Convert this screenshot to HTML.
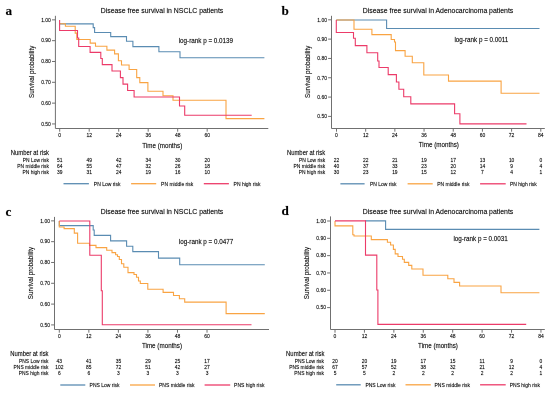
<!DOCTYPE html>
<html><head><meta charset="utf-8"><style>
html,body{margin:0;padding:0;background:#fff;width:550px;height:393px;overflow:hidden}
svg{display:block;will-change:transform}
</style></head><body>
<svg width="550" height="393" viewBox="0 0 550 393">
<g>
<rect width="550" height="393" fill="#fff"/>
<line x1="55.4" y1="15.8" x2="55.4" y2="128.5" stroke="#707070" stroke-width="1"/>
<line x1="55.4" y1="128.5" x2="268.3" y2="128.5" stroke="#707070" stroke-width="1"/>
<line x1="52.0" y1="19.85" x2="55.4" y2="19.85" stroke="#707070" stroke-width="1.0"/>
<text x="50.9" y="21.650000000000002" font-size="5.0" text-anchor="end" fill="#000000" stroke="#b4b4b4" stroke-width="0.28" paint-order="stroke" font-family='"Liberation Sans", sans-serif' font-weight="normal" >1.00</text>
<line x1="52.0" y1="40.67" x2="55.4" y2="40.67" stroke="#707070" stroke-width="1.0"/>
<text x="50.9" y="42.47" font-size="5.0" text-anchor="end" fill="#000000" stroke="#b4b4b4" stroke-width="0.28" paint-order="stroke" font-family='"Liberation Sans", sans-serif' font-weight="normal" >0.90</text>
<line x1="52.0" y1="61.49" x2="55.4" y2="61.49" stroke="#707070" stroke-width="1.0"/>
<text x="50.9" y="63.29" font-size="5.0" text-anchor="end" fill="#000000" stroke="#b4b4b4" stroke-width="0.28" paint-order="stroke" font-family='"Liberation Sans", sans-serif' font-weight="normal" >0.80</text>
<line x1="52.0" y1="82.31" x2="55.4" y2="82.31" stroke="#707070" stroke-width="1.0"/>
<text x="50.9" y="84.11" font-size="5.0" text-anchor="end" fill="#000000" stroke="#b4b4b4" stroke-width="0.28" paint-order="stroke" font-family='"Liberation Sans", sans-serif' font-weight="normal" >0.70</text>
<line x1="52.0" y1="103.13" x2="55.4" y2="103.13" stroke="#707070" stroke-width="1.0"/>
<text x="50.9" y="104.92999999999999" font-size="5.0" text-anchor="end" fill="#000000" stroke="#b4b4b4" stroke-width="0.28" paint-order="stroke" font-family='"Liberation Sans", sans-serif' font-weight="normal" >0.60</text>
<line x1="52.0" y1="123.95" x2="55.4" y2="123.95" stroke="#707070" stroke-width="1.0"/>
<text x="50.9" y="125.75" font-size="5.0" text-anchor="end" fill="#000000" stroke="#b4b4b4" stroke-width="0.28" paint-order="stroke" font-family='"Liberation Sans", sans-serif' font-weight="normal" >0.50</text>
<line x1="59.7" y1="128.5" x2="59.7" y2="131.7" stroke="#707070" stroke-width="1.0"/>
<text x="59.7" y="137.4" font-size="5.0" text-anchor="middle" fill="#000000" stroke="#b4b4b4" stroke-width="0.28" paint-order="stroke" font-family='"Liberation Sans", sans-serif' font-weight="normal" >0</text>
<line x1="89.196" y1="128.5" x2="89.196" y2="131.7" stroke="#707070" stroke-width="1.0"/>
<text x="89.196" y="137.4" font-size="5.0" text-anchor="middle" fill="#000000" stroke="#b4b4b4" stroke-width="0.28" paint-order="stroke" font-family='"Liberation Sans", sans-serif' font-weight="normal" >12</text>
<line x1="118.69200000000001" y1="128.5" x2="118.69200000000001" y2="131.7" stroke="#707070" stroke-width="1.0"/>
<text x="118.69200000000001" y="137.4" font-size="5.0" text-anchor="middle" fill="#000000" stroke="#b4b4b4" stroke-width="0.28" paint-order="stroke" font-family='"Liberation Sans", sans-serif' font-weight="normal" >24</text>
<line x1="148.188" y1="128.5" x2="148.188" y2="131.7" stroke="#707070" stroke-width="1.0"/>
<text x="148.188" y="137.4" font-size="5.0" text-anchor="middle" fill="#000000" stroke="#b4b4b4" stroke-width="0.28" paint-order="stroke" font-family='"Liberation Sans", sans-serif' font-weight="normal" >36</text>
<line x1="177.68400000000003" y1="128.5" x2="177.68400000000003" y2="131.7" stroke="#707070" stroke-width="1.0"/>
<text x="177.68400000000003" y="137.4" font-size="5.0" text-anchor="middle" fill="#000000" stroke="#b4b4b4" stroke-width="0.28" paint-order="stroke" font-family='"Liberation Sans", sans-serif' font-weight="normal" >48</text>
<line x1="207.18" y1="128.5" x2="207.18" y2="131.7" stroke="#707070" stroke-width="1.0"/>
<text x="207.18" y="137.4" font-size="5.0" text-anchor="middle" fill="#000000" stroke="#b4b4b4" stroke-width="0.28" paint-order="stroke" font-family='"Liberation Sans", sans-serif' font-weight="normal" >60</text>
<text x="5.6" y="14.6" font-size="13.2" text-anchor="start" fill="#000" stroke="#b4b4b4" stroke-width="0.35" paint-order="stroke" font-family='"Liberation Serif", serif' font-weight="bold" >a</text>
<text x="162" y="13.2" font-size="6.9" text-anchor="middle" fill="#000000" stroke="#b4b4b4" stroke-width="0.3" paint-order="stroke" font-family='"Liberation Sans", sans-serif' font-weight="normal" >Disease free survival in NSCLC patients</text>
<text x="0" y="0" font-size="6.6" text-anchor="middle" fill="#000000" stroke="#b4b4b4" stroke-width="0.3" paint-order="stroke" font-family='"Liberation Sans", sans-serif' font-weight="normal" transform="translate(33.7,71.8) rotate(-90)" textLength="52.3" lengthAdjust="spacingAndGlyphs">Survival probability</text>
<text x="162.3" y="147.6" font-size="6.8" text-anchor="middle" fill="#000000" stroke="#b4b4b4" stroke-width="0.3" paint-order="stroke" font-family='"Liberation Sans", sans-serif' font-weight="normal"  textLength="39.9" lengthAdjust="spacingAndGlyphs">Time (months)</text>
<text x="178.7" y="43.0" font-size="6.3" text-anchor="start" fill="#000000" stroke="#b4b4b4" stroke-width="0.3" paint-order="stroke" font-family='"Liberation Sans", sans-serif' font-weight="normal" >log-rank p = 0.0139</text>
<text x="10.7" y="155.2" font-size="6.3" text-anchor="start" fill="#000000" stroke="#b4b4b4" stroke-width="0.3" paint-order="stroke" font-family='"Liberation Sans", sans-serif' font-weight="normal"  textLength="38.4" lengthAdjust="spacingAndGlyphs">Number at risk</text>
<text x="48.9" y="162.0" font-size="4.9" text-anchor="end" fill="#000000" stroke="#b4b4b4" stroke-width="0.28" paint-order="stroke" font-family='"Liberation Sans", sans-serif' font-weight="normal" >PN Low risk</text>
<text x="59.7" y="162.0" font-size="4.9" text-anchor="middle" fill="#000000" stroke="#b4b4b4" stroke-width="0.28" paint-order="stroke" font-family='"Liberation Sans", sans-serif' font-weight="normal" >51</text>
<text x="89.196" y="162.0" font-size="4.9" text-anchor="middle" fill="#000000" stroke="#b4b4b4" stroke-width="0.28" paint-order="stroke" font-family='"Liberation Sans", sans-serif' font-weight="normal" >49</text>
<text x="118.69200000000001" y="162.0" font-size="4.9" text-anchor="middle" fill="#000000" stroke="#b4b4b4" stroke-width="0.28" paint-order="stroke" font-family='"Liberation Sans", sans-serif' font-weight="normal" >42</text>
<text x="148.188" y="162.0" font-size="4.9" text-anchor="middle" fill="#000000" stroke="#b4b4b4" stroke-width="0.28" paint-order="stroke" font-family='"Liberation Sans", sans-serif' font-weight="normal" >34</text>
<text x="177.68400000000003" y="162.0" font-size="4.9" text-anchor="middle" fill="#000000" stroke="#b4b4b4" stroke-width="0.28" paint-order="stroke" font-family='"Liberation Sans", sans-serif' font-weight="normal" >30</text>
<text x="207.18" y="162.0" font-size="4.9" text-anchor="middle" fill="#000000" stroke="#b4b4b4" stroke-width="0.28" paint-order="stroke" font-family='"Liberation Sans", sans-serif' font-weight="normal" >20</text>
<text x="48.9" y="167.9" font-size="4.9" text-anchor="end" fill="#000000" stroke="#b4b4b4" stroke-width="0.28" paint-order="stroke" font-family='"Liberation Sans", sans-serif' font-weight="normal" >PN middle risk</text>
<text x="59.7" y="167.9" font-size="4.9" text-anchor="middle" fill="#000000" stroke="#b4b4b4" stroke-width="0.28" paint-order="stroke" font-family='"Liberation Sans", sans-serif' font-weight="normal" >64</text>
<text x="89.196" y="167.9" font-size="4.9" text-anchor="middle" fill="#000000" stroke="#b4b4b4" stroke-width="0.28" paint-order="stroke" font-family='"Liberation Sans", sans-serif' font-weight="normal" >55</text>
<text x="118.69200000000001" y="167.9" font-size="4.9" text-anchor="middle" fill="#000000" stroke="#b4b4b4" stroke-width="0.28" paint-order="stroke" font-family='"Liberation Sans", sans-serif' font-weight="normal" >47</text>
<text x="148.188" y="167.9" font-size="4.9" text-anchor="middle" fill="#000000" stroke="#b4b4b4" stroke-width="0.28" paint-order="stroke" font-family='"Liberation Sans", sans-serif' font-weight="normal" >32</text>
<text x="177.68400000000003" y="167.9" font-size="4.9" text-anchor="middle" fill="#000000" stroke="#b4b4b4" stroke-width="0.28" paint-order="stroke" font-family='"Liberation Sans", sans-serif' font-weight="normal" >26</text>
<text x="207.18" y="167.9" font-size="4.9" text-anchor="middle" fill="#000000" stroke="#b4b4b4" stroke-width="0.28" paint-order="stroke" font-family='"Liberation Sans", sans-serif' font-weight="normal" >18</text>
<text x="48.9" y="173.7" font-size="4.9" text-anchor="end" fill="#000000" stroke="#b4b4b4" stroke-width="0.28" paint-order="stroke" font-family='"Liberation Sans", sans-serif' font-weight="normal" >PN high risk</text>
<text x="59.7" y="173.7" font-size="4.9" text-anchor="middle" fill="#000000" stroke="#b4b4b4" stroke-width="0.28" paint-order="stroke" font-family='"Liberation Sans", sans-serif' font-weight="normal" >39</text>
<text x="89.196" y="173.7" font-size="4.9" text-anchor="middle" fill="#000000" stroke="#b4b4b4" stroke-width="0.28" paint-order="stroke" font-family='"Liberation Sans", sans-serif' font-weight="normal" >31</text>
<text x="118.69200000000001" y="173.7" font-size="4.9" text-anchor="middle" fill="#000000" stroke="#b4b4b4" stroke-width="0.28" paint-order="stroke" font-family='"Liberation Sans", sans-serif' font-weight="normal" >24</text>
<text x="148.188" y="173.7" font-size="4.9" text-anchor="middle" fill="#000000" stroke="#b4b4b4" stroke-width="0.28" paint-order="stroke" font-family='"Liberation Sans", sans-serif' font-weight="normal" >19</text>
<text x="177.68400000000003" y="173.7" font-size="4.9" text-anchor="middle" fill="#000000" stroke="#b4b4b4" stroke-width="0.28" paint-order="stroke" font-family='"Liberation Sans", sans-serif' font-weight="normal" >16</text>
<text x="207.18" y="173.7" font-size="4.9" text-anchor="middle" fill="#000000" stroke="#b4b4b4" stroke-width="0.28" paint-order="stroke" font-family='"Liberation Sans", sans-serif' font-weight="normal" >10</text>
<line x1="63.5" y1="183.7" x2="88.9" y2="183.7" stroke="#5a8cb2" stroke-width="1.3"/>
<text x="93.8" y="185.5" font-size="5.0" text-anchor="start" fill="#000000" stroke="#b4b4b4" stroke-width="0.28" paint-order="stroke" font-family='"Liberation Sans", sans-serif' font-weight="normal" >PN Low risk</text>
<line x1="131.1" y1="183.7" x2="156.2" y2="183.7" stroke="#f9a443" stroke-width="1.3"/>
<text x="161.1" y="185.5" font-size="5.0" text-anchor="start" fill="#000000" stroke="#b4b4b4" stroke-width="0.28" paint-order="stroke" font-family='"Liberation Sans", sans-serif' font-weight="normal" >PN middle risk</text>
<line x1="203.8" y1="183.7" x2="228.9" y2="183.7" stroke="#ec3b69" stroke-width="1.3"/>
<text x="233.6" y="185.5" font-size="5.0" text-anchor="start" fill="#000000" stroke="#b4b4b4" stroke-width="0.28" paint-order="stroke" font-family='"Liberation Sans", sans-serif' font-weight="normal" >PN high risk</text>
<path d="M59.6 23.9 H93.2 V27.6 H94.6 V32.5 H110.7 V36.6 H126.5 V41.3 H132.9 V46.6 H158.9 V51.8 H180 V57.8 H264.4" fill="none" stroke="#5a8cb2" stroke-width="1.1" stroke-linejoin="miter" stroke-linecap="butt"/>
<path d="M59.6 23.7 H65.4 V26.2 H75.2 V33.1 H76.8 V39.5 H90.2 V43.1 H95.5 V46.3 H106.9 V50.1 H114.6 V53.9 H118.4 V60.8 H121.5 V65 H129.1 V69.5 H136.7 V77.6 H139.8 V82.6 H147.9 V91.3 H163 V95.7 H173 V100.3 H226 V118.6 H264.4" fill="none" stroke="#f9a443" stroke-width="1.1" stroke-linejoin="miter" stroke-linecap="butt"/>
<path d="M59.6 20 V30.5 H77.5 V38 H78.7 V46.5 H90.1 V52.4 H100.8 V58.5 H102.3 V64.6 H112 V71 H120.4 V77.6 H123 V84.1 H127.6 V90.5 H134.1 V97 H179.5 V106 H184.7 V115.2 H251.7" fill="none" stroke="#ec3b69" stroke-width="1.1" stroke-linejoin="miter" stroke-linecap="butt"/>
<line x1="331.5" y1="15.8" x2="331.5" y2="128.5" stroke="#707070" stroke-width="1"/>
<line x1="331.5" y1="128.5" x2="544.8" y2="128.5" stroke="#707070" stroke-width="1"/>
<line x1="328.1" y1="19.8" x2="331.5" y2="19.8" stroke="#707070" stroke-width="1.0"/>
<text x="327.0" y="21.6" font-size="5.0" text-anchor="end" fill="#000000" stroke="#b4b4b4" stroke-width="0.28" paint-order="stroke" font-family='"Liberation Sans", sans-serif' font-weight="normal" >1.00</text>
<line x1="328.1" y1="39.12" x2="331.5" y2="39.12" stroke="#707070" stroke-width="1.0"/>
<text x="327.0" y="40.919999999999995" font-size="5.0" text-anchor="end" fill="#000000" stroke="#b4b4b4" stroke-width="0.28" paint-order="stroke" font-family='"Liberation Sans", sans-serif' font-weight="normal" >0.90</text>
<line x1="328.1" y1="58.44" x2="331.5" y2="58.44" stroke="#707070" stroke-width="1.0"/>
<text x="327.0" y="60.239999999999995" font-size="5.0" text-anchor="end" fill="#000000" stroke="#b4b4b4" stroke-width="0.28" paint-order="stroke" font-family='"Liberation Sans", sans-serif' font-weight="normal" >0.80</text>
<line x1="328.1" y1="77.76" x2="331.5" y2="77.76" stroke="#707070" stroke-width="1.0"/>
<text x="327.0" y="79.56" font-size="5.0" text-anchor="end" fill="#000000" stroke="#b4b4b4" stroke-width="0.28" paint-order="stroke" font-family='"Liberation Sans", sans-serif' font-weight="normal" >0.70</text>
<line x1="328.1" y1="97.08" x2="331.5" y2="97.08" stroke="#707070" stroke-width="1.0"/>
<text x="327.0" y="98.88" font-size="5.0" text-anchor="end" fill="#000000" stroke="#b4b4b4" stroke-width="0.28" paint-order="stroke" font-family='"Liberation Sans", sans-serif' font-weight="normal" >0.60</text>
<line x1="328.1" y1="116.4" x2="331.5" y2="116.4" stroke="#707070" stroke-width="1.0"/>
<text x="327.0" y="118.2" font-size="5.0" text-anchor="end" fill="#000000" stroke="#b4b4b4" stroke-width="0.28" paint-order="stroke" font-family='"Liberation Sans", sans-serif' font-weight="normal" >0.50</text>
<line x1="336.5" y1="128.5" x2="336.5" y2="131.7" stroke="#707070" stroke-width="1.0"/>
<text x="336.5" y="137.4" font-size="5.0" text-anchor="middle" fill="#000000" stroke="#b4b4b4" stroke-width="0.28" paint-order="stroke" font-family='"Liberation Sans", sans-serif' font-weight="normal" >0</text>
<line x1="365.68399999999997" y1="128.5" x2="365.68399999999997" y2="131.7" stroke="#707070" stroke-width="1.0"/>
<text x="365.68399999999997" y="137.4" font-size="5.0" text-anchor="middle" fill="#000000" stroke="#b4b4b4" stroke-width="0.28" paint-order="stroke" font-family='"Liberation Sans", sans-serif' font-weight="normal" >12</text>
<line x1="394.868" y1="128.5" x2="394.868" y2="131.7" stroke="#707070" stroke-width="1.0"/>
<text x="394.868" y="137.4" font-size="5.0" text-anchor="middle" fill="#000000" stroke="#b4b4b4" stroke-width="0.28" paint-order="stroke" font-family='"Liberation Sans", sans-serif' font-weight="normal" >24</text>
<line x1="424.052" y1="128.5" x2="424.052" y2="131.7" stroke="#707070" stroke-width="1.0"/>
<text x="424.052" y="137.4" font-size="5.0" text-anchor="middle" fill="#000000" stroke="#b4b4b4" stroke-width="0.28" paint-order="stroke" font-family='"Liberation Sans", sans-serif' font-weight="normal" >36</text>
<line x1="453.236" y1="128.5" x2="453.236" y2="131.7" stroke="#707070" stroke-width="1.0"/>
<text x="453.236" y="137.4" font-size="5.0" text-anchor="middle" fill="#000000" stroke="#b4b4b4" stroke-width="0.28" paint-order="stroke" font-family='"Liberation Sans", sans-serif' font-weight="normal" >48</text>
<line x1="482.41999999999996" y1="128.5" x2="482.41999999999996" y2="131.7" stroke="#707070" stroke-width="1.0"/>
<text x="482.41999999999996" y="137.4" font-size="5.0" text-anchor="middle" fill="#000000" stroke="#b4b4b4" stroke-width="0.28" paint-order="stroke" font-family='"Liberation Sans", sans-serif' font-weight="normal" >60</text>
<line x1="511.604" y1="128.5" x2="511.604" y2="131.7" stroke="#707070" stroke-width="1.0"/>
<text x="511.604" y="137.4" font-size="5.0" text-anchor="middle" fill="#000000" stroke="#b4b4b4" stroke-width="0.28" paint-order="stroke" font-family='"Liberation Sans", sans-serif' font-weight="normal" >72</text>
<line x1="540.788" y1="128.5" x2="540.788" y2="131.7" stroke="#707070" stroke-width="1.0"/>
<text x="540.788" y="137.4" font-size="5.0" text-anchor="middle" fill="#000000" stroke="#b4b4b4" stroke-width="0.28" paint-order="stroke" font-family='"Liberation Sans", sans-serif' font-weight="normal" >84</text>
<text x="281.6" y="14.6" font-size="13.2" text-anchor="start" fill="#000" stroke="#b4b4b4" stroke-width="0.35" paint-order="stroke" font-family='"Liberation Serif", serif' font-weight="bold" >b</text>
<text x="438" y="13.2" font-size="6.9" text-anchor="middle" fill="#000000" stroke="#b4b4b4" stroke-width="0.3" paint-order="stroke" font-family='"Liberation Sans", sans-serif' font-weight="normal" >Disease free survival in Adenocarcinoma patients</text>
<text x="0" y="0" font-size="6.6" text-anchor="middle" fill="#000000" stroke="#b4b4b4" stroke-width="0.3" paint-order="stroke" font-family='"Liberation Sans", sans-serif' font-weight="normal" transform="translate(309.6,71.8) rotate(-90)" textLength="52.3" lengthAdjust="spacingAndGlyphs">Survival probability</text>
<text x="438.8" y="146.6" font-size="6.8" text-anchor="middle" fill="#000000" stroke="#b4b4b4" stroke-width="0.3" paint-order="stroke" font-family='"Liberation Sans", sans-serif' font-weight="normal"  textLength="40.2" lengthAdjust="spacingAndGlyphs">Time (months)</text>
<text x="454.4" y="42.0" font-size="6.3" text-anchor="start" fill="#000000" stroke="#b4b4b4" stroke-width="0.3" paint-order="stroke" font-family='"Liberation Sans", sans-serif' font-weight="normal" >log-rank p = 0.0011</text>
<text x="286.9" y="155.2" font-size="6.3" text-anchor="start" fill="#000000" stroke="#b4b4b4" stroke-width="0.3" paint-order="stroke" font-family='"Liberation Sans", sans-serif' font-weight="normal"  textLength="38.4" lengthAdjust="spacingAndGlyphs">Number at risk</text>
<text x="325.1" y="162.0" font-size="4.9" text-anchor="end" fill="#000000" stroke="#b4b4b4" stroke-width="0.28" paint-order="stroke" font-family='"Liberation Sans", sans-serif' font-weight="normal" >PN Low risk</text>
<text x="336.5" y="162.0" font-size="4.9" text-anchor="middle" fill="#000000" stroke="#b4b4b4" stroke-width="0.28" paint-order="stroke" font-family='"Liberation Sans", sans-serif' font-weight="normal" >22</text>
<text x="365.68399999999997" y="162.0" font-size="4.9" text-anchor="middle" fill="#000000" stroke="#b4b4b4" stroke-width="0.28" paint-order="stroke" font-family='"Liberation Sans", sans-serif' font-weight="normal" >22</text>
<text x="394.868" y="162.0" font-size="4.9" text-anchor="middle" fill="#000000" stroke="#b4b4b4" stroke-width="0.28" paint-order="stroke" font-family='"Liberation Sans", sans-serif' font-weight="normal" >21</text>
<text x="424.052" y="162.0" font-size="4.9" text-anchor="middle" fill="#000000" stroke="#b4b4b4" stroke-width="0.28" paint-order="stroke" font-family='"Liberation Sans", sans-serif' font-weight="normal" >19</text>
<text x="453.236" y="162.0" font-size="4.9" text-anchor="middle" fill="#000000" stroke="#b4b4b4" stroke-width="0.28" paint-order="stroke" font-family='"Liberation Sans", sans-serif' font-weight="normal" >17</text>
<text x="482.41999999999996" y="162.0" font-size="4.9" text-anchor="middle" fill="#000000" stroke="#b4b4b4" stroke-width="0.28" paint-order="stroke" font-family='"Liberation Sans", sans-serif' font-weight="normal" >13</text>
<text x="511.604" y="162.0" font-size="4.9" text-anchor="middle" fill="#000000" stroke="#b4b4b4" stroke-width="0.28" paint-order="stroke" font-family='"Liberation Sans", sans-serif' font-weight="normal" >10</text>
<text x="540.788" y="162.0" font-size="4.9" text-anchor="middle" fill="#000000" stroke="#b4b4b4" stroke-width="0.28" paint-order="stroke" font-family='"Liberation Sans", sans-serif' font-weight="normal" >0</text>
<text x="325.1" y="167.9" font-size="4.9" text-anchor="end" fill="#000000" stroke="#b4b4b4" stroke-width="0.28" paint-order="stroke" font-family='"Liberation Sans", sans-serif' font-weight="normal" >PN middle risk</text>
<text x="336.5" y="167.9" font-size="4.9" text-anchor="middle" fill="#000000" stroke="#b4b4b4" stroke-width="0.28" paint-order="stroke" font-family='"Liberation Sans", sans-serif' font-weight="normal" >40</text>
<text x="365.68399999999997" y="167.9" font-size="4.9" text-anchor="middle" fill="#000000" stroke="#b4b4b4" stroke-width="0.28" paint-order="stroke" font-family='"Liberation Sans", sans-serif' font-weight="normal" >37</text>
<text x="394.868" y="167.9" font-size="4.9" text-anchor="middle" fill="#000000" stroke="#b4b4b4" stroke-width="0.28" paint-order="stroke" font-family='"Liberation Sans", sans-serif' font-weight="normal" >33</text>
<text x="424.052" y="167.9" font-size="4.9" text-anchor="middle" fill="#000000" stroke="#b4b4b4" stroke-width="0.28" paint-order="stroke" font-family='"Liberation Sans", sans-serif' font-weight="normal" >23</text>
<text x="453.236" y="167.9" font-size="4.9" text-anchor="middle" fill="#000000" stroke="#b4b4b4" stroke-width="0.28" paint-order="stroke" font-family='"Liberation Sans", sans-serif' font-weight="normal" >20</text>
<text x="482.41999999999996" y="167.9" font-size="4.9" text-anchor="middle" fill="#000000" stroke="#b4b4b4" stroke-width="0.28" paint-order="stroke" font-family='"Liberation Sans", sans-serif' font-weight="normal" >14</text>
<text x="511.604" y="167.9" font-size="4.9" text-anchor="middle" fill="#000000" stroke="#b4b4b4" stroke-width="0.28" paint-order="stroke" font-family='"Liberation Sans", sans-serif' font-weight="normal" >9</text>
<text x="540.788" y="167.9" font-size="4.9" text-anchor="middle" fill="#000000" stroke="#b4b4b4" stroke-width="0.28" paint-order="stroke" font-family='"Liberation Sans", sans-serif' font-weight="normal" >4</text>
<text x="325.1" y="173.7" font-size="4.9" text-anchor="end" fill="#000000" stroke="#b4b4b4" stroke-width="0.28" paint-order="stroke" font-family='"Liberation Sans", sans-serif' font-weight="normal" >PN high risk</text>
<text x="336.5" y="173.7" font-size="4.9" text-anchor="middle" fill="#000000" stroke="#b4b4b4" stroke-width="0.28" paint-order="stroke" font-family='"Liberation Sans", sans-serif' font-weight="normal" >30</text>
<text x="365.68399999999997" y="173.7" font-size="4.9" text-anchor="middle" fill="#000000" stroke="#b4b4b4" stroke-width="0.28" paint-order="stroke" font-family='"Liberation Sans", sans-serif' font-weight="normal" >23</text>
<text x="394.868" y="173.7" font-size="4.9" text-anchor="middle" fill="#000000" stroke="#b4b4b4" stroke-width="0.28" paint-order="stroke" font-family='"Liberation Sans", sans-serif' font-weight="normal" >19</text>
<text x="424.052" y="173.7" font-size="4.9" text-anchor="middle" fill="#000000" stroke="#b4b4b4" stroke-width="0.28" paint-order="stroke" font-family='"Liberation Sans", sans-serif' font-weight="normal" >15</text>
<text x="453.236" y="173.7" font-size="4.9" text-anchor="middle" fill="#000000" stroke="#b4b4b4" stroke-width="0.28" paint-order="stroke" font-family='"Liberation Sans", sans-serif' font-weight="normal" >12</text>
<text x="482.41999999999996" y="173.7" font-size="4.9" text-anchor="middle" fill="#000000" stroke="#b4b4b4" stroke-width="0.28" paint-order="stroke" font-family='"Liberation Sans", sans-serif' font-weight="normal" >7</text>
<text x="511.604" y="173.7" font-size="4.9" text-anchor="middle" fill="#000000" stroke="#b4b4b4" stroke-width="0.28" paint-order="stroke" font-family='"Liberation Sans", sans-serif' font-weight="normal" >4</text>
<text x="540.788" y="173.7" font-size="4.9" text-anchor="middle" fill="#000000" stroke="#b4b4b4" stroke-width="0.28" paint-order="stroke" font-family='"Liberation Sans", sans-serif' font-weight="normal" >1</text>
<line x1="340.4" y1="183.8" x2="364.6" y2="183.8" stroke="#5a8cb2" stroke-width="1.3"/>
<text x="369.9" y="185.60000000000002" font-size="5.0" text-anchor="start" fill="#000000" stroke="#b4b4b4" stroke-width="0.28" paint-order="stroke" font-family='"Liberation Sans", sans-serif' font-weight="normal" >PN Low risk</text>
<line x1="407.6" y1="183.8" x2="432.7" y2="183.8" stroke="#f9a443" stroke-width="1.3"/>
<text x="437.2" y="185.60000000000002" font-size="5.0" text-anchor="start" fill="#000000" stroke="#b4b4b4" stroke-width="0.28" paint-order="stroke" font-family='"Liberation Sans", sans-serif' font-weight="normal" >PN middle risk</text>
<line x1="480.1" y1="183.8" x2="505.7" y2="183.8" stroke="#ec3b69" stroke-width="1.3"/>
<text x="509.9" y="185.60000000000002" font-size="5.0" text-anchor="start" fill="#000000" stroke="#b4b4b4" stroke-width="0.28" paint-order="stroke" font-family='"Liberation Sans", sans-serif' font-weight="normal" >PN high risk</text>
<path d="M336.3 20 H386.6 V28.5 H539.5" fill="none" stroke="#5a8cb2" stroke-width="1.1" stroke-linejoin="miter" stroke-linecap="butt"/>
<path d="M336.3 20 H354 V29.3 H371.9 V34.6 H391.2 V39.5 H394.5 V42 H395.5 V50.6 H405.1 V56.3 H412.3 V62.7 H423.8 V75 H448.5 V81.1 H501.1 V93.3 H539.5" fill="none" stroke="#f9a443" stroke-width="1.1" stroke-linejoin="miter" stroke-linecap="butt"/>
<path d="M336.3 20 V32.5 H353.5 V38.2 H355.3 V45.6 H366.9 V52.8 H377.7 V61 H379 V67.5 H388.2 V74.6 H396.4 V82 H398.9 V89.2 H403.7 V96.7 H410.8 V103.9 H454.6 V113.8 H459.9 V123.9 H526.5" fill="none" stroke="#ec3b69" stroke-width="1.1" stroke-linejoin="miter" stroke-linecap="butt"/>
<line x1="54.5" y1="216.9" x2="54.5" y2="329.5" stroke="#707070" stroke-width="1"/>
<line x1="54.5" y1="329.5" x2="269.0" y2="329.5" stroke="#707070" stroke-width="1"/>
<line x1="51.1" y1="220.86" x2="54.5" y2="220.86" stroke="#707070" stroke-width="1.0"/>
<text x="50.0" y="222.66000000000003" font-size="5.0" text-anchor="end" fill="#000000" stroke="#b4b4b4" stroke-width="0.28" paint-order="stroke" font-family='"Liberation Sans", sans-serif' font-weight="normal" >1.00</text>
<line x1="51.1" y1="241.67" x2="54.5" y2="241.67" stroke="#707070" stroke-width="1.0"/>
<text x="50.0" y="243.47" font-size="5.0" text-anchor="end" fill="#000000" stroke="#b4b4b4" stroke-width="0.28" paint-order="stroke" font-family='"Liberation Sans", sans-serif' font-weight="normal" >0.90</text>
<line x1="51.1" y1="262.48" x2="54.5" y2="262.48" stroke="#707070" stroke-width="1.0"/>
<text x="50.0" y="264.28000000000003" font-size="5.0" text-anchor="end" fill="#000000" stroke="#b4b4b4" stroke-width="0.28" paint-order="stroke" font-family='"Liberation Sans", sans-serif' font-weight="normal" >0.80</text>
<line x1="51.1" y1="283.29" x2="54.5" y2="283.29" stroke="#707070" stroke-width="1.0"/>
<text x="50.0" y="285.09000000000003" font-size="5.0" text-anchor="end" fill="#000000" stroke="#b4b4b4" stroke-width="0.28" paint-order="stroke" font-family='"Liberation Sans", sans-serif' font-weight="normal" >0.70</text>
<line x1="51.1" y1="304.1" x2="54.5" y2="304.1" stroke="#707070" stroke-width="1.0"/>
<text x="50.0" y="305.90000000000003" font-size="5.0" text-anchor="end" fill="#000000" stroke="#b4b4b4" stroke-width="0.28" paint-order="stroke" font-family='"Liberation Sans", sans-serif' font-weight="normal" >0.60</text>
<line x1="51.1" y1="324.91" x2="54.5" y2="324.91" stroke="#707070" stroke-width="1.0"/>
<text x="50.0" y="326.71000000000004" font-size="5.0" text-anchor="end" fill="#000000" stroke="#b4b4b4" stroke-width="0.28" paint-order="stroke" font-family='"Liberation Sans", sans-serif' font-weight="normal" >0.50</text>
<line x1="59.3" y1="329.5" x2="59.3" y2="332.7" stroke="#707070" stroke-width="1.0"/>
<text x="59.3" y="338.4" font-size="5.0" text-anchor="middle" fill="#000000" stroke="#b4b4b4" stroke-width="0.28" paint-order="stroke" font-family='"Liberation Sans", sans-serif' font-weight="normal" >0</text>
<line x1="88.844" y1="329.5" x2="88.844" y2="332.7" stroke="#707070" stroke-width="1.0"/>
<text x="88.844" y="338.4" font-size="5.0" text-anchor="middle" fill="#000000" stroke="#b4b4b4" stroke-width="0.28" paint-order="stroke" font-family='"Liberation Sans", sans-serif' font-weight="normal" >12</text>
<line x1="118.388" y1="329.5" x2="118.388" y2="332.7" stroke="#707070" stroke-width="1.0"/>
<text x="118.388" y="338.4" font-size="5.0" text-anchor="middle" fill="#000000" stroke="#b4b4b4" stroke-width="0.28" paint-order="stroke" font-family='"Liberation Sans", sans-serif' font-weight="normal" >24</text>
<line x1="147.93200000000002" y1="329.5" x2="147.93200000000002" y2="332.7" stroke="#707070" stroke-width="1.0"/>
<text x="147.93200000000002" y="338.4" font-size="5.0" text-anchor="middle" fill="#000000" stroke="#b4b4b4" stroke-width="0.28" paint-order="stroke" font-family='"Liberation Sans", sans-serif' font-weight="normal" >36</text>
<line x1="177.476" y1="329.5" x2="177.476" y2="332.7" stroke="#707070" stroke-width="1.0"/>
<text x="177.476" y="338.4" font-size="5.0" text-anchor="middle" fill="#000000" stroke="#b4b4b4" stroke-width="0.28" paint-order="stroke" font-family='"Liberation Sans", sans-serif' font-weight="normal" >48</text>
<line x1="207.01999999999998" y1="329.5" x2="207.01999999999998" y2="332.7" stroke="#707070" stroke-width="1.0"/>
<text x="207.01999999999998" y="338.4" font-size="5.0" text-anchor="middle" fill="#000000" stroke="#b4b4b4" stroke-width="0.28" paint-order="stroke" font-family='"Liberation Sans", sans-serif' font-weight="normal" >60</text>
<text x="5.6" y="215.6" font-size="13.2" text-anchor="start" fill="#000" stroke="#b4b4b4" stroke-width="0.35" paint-order="stroke" font-family='"Liberation Serif", serif' font-weight="bold" >c</text>
<text x="162" y="214.2" font-size="6.9" text-anchor="middle" fill="#000000" stroke="#b4b4b4" stroke-width="0.3" paint-order="stroke" font-family='"Liberation Sans", sans-serif' font-weight="normal" >Disease free survival in NSCLC patients</text>
<text x="0" y="0" font-size="6.6" text-anchor="middle" fill="#000000" stroke="#b4b4b4" stroke-width="0.3" paint-order="stroke" font-family='"Liberation Sans", sans-serif' font-weight="normal" transform="translate(33.0,273) rotate(-90)" textLength="52.3" lengthAdjust="spacingAndGlyphs">Survival probability</text>
<text x="162.0" y="348.0" font-size="6.8" text-anchor="middle" fill="#000000" stroke="#b4b4b4" stroke-width="0.3" paint-order="stroke" font-family='"Liberation Sans", sans-serif' font-weight="normal"  textLength="40.2" lengthAdjust="spacingAndGlyphs">Time (months)</text>
<text x="178.8" y="244.2" font-size="6.3" text-anchor="start" fill="#000000" stroke="#b4b4b4" stroke-width="0.3" paint-order="stroke" font-family='"Liberation Sans", sans-serif' font-weight="normal" >log-rank p = 0.0477</text>
<text x="10.2" y="356.3" font-size="6.3" text-anchor="start" fill="#000000" stroke="#b4b4b4" stroke-width="0.3" paint-order="stroke" font-family='"Liberation Sans", sans-serif' font-weight="normal"  textLength="38.4" lengthAdjust="spacingAndGlyphs">Number at risk</text>
<text x="48.4" y="362.8" font-size="4.9" text-anchor="end" fill="#000000" stroke="#b4b4b4" stroke-width="0.28" paint-order="stroke" font-family='"Liberation Sans", sans-serif' font-weight="normal" >PNS Low risk</text>
<text x="59.3" y="362.8" font-size="4.9" text-anchor="middle" fill="#000000" stroke="#b4b4b4" stroke-width="0.28" paint-order="stroke" font-family='"Liberation Sans", sans-serif' font-weight="normal" >43</text>
<text x="88.844" y="362.8" font-size="4.9" text-anchor="middle" fill="#000000" stroke="#b4b4b4" stroke-width="0.28" paint-order="stroke" font-family='"Liberation Sans", sans-serif' font-weight="normal" >41</text>
<text x="118.388" y="362.8" font-size="4.9" text-anchor="middle" fill="#000000" stroke="#b4b4b4" stroke-width="0.28" paint-order="stroke" font-family='"Liberation Sans", sans-serif' font-weight="normal" >35</text>
<text x="147.93200000000002" y="362.8" font-size="4.9" text-anchor="middle" fill="#000000" stroke="#b4b4b4" stroke-width="0.28" paint-order="stroke" font-family='"Liberation Sans", sans-serif' font-weight="normal" >29</text>
<text x="177.476" y="362.8" font-size="4.9" text-anchor="middle" fill="#000000" stroke="#b4b4b4" stroke-width="0.28" paint-order="stroke" font-family='"Liberation Sans", sans-serif' font-weight="normal" >25</text>
<text x="207.01999999999998" y="362.8" font-size="4.9" text-anchor="middle" fill="#000000" stroke="#b4b4b4" stroke-width="0.28" paint-order="stroke" font-family='"Liberation Sans", sans-serif' font-weight="normal" >17</text>
<text x="48.4" y="368.7" font-size="4.9" text-anchor="end" fill="#000000" stroke="#b4b4b4" stroke-width="0.28" paint-order="stroke" font-family='"Liberation Sans", sans-serif' font-weight="normal" >PNS middle risk</text>
<text x="59.3" y="368.7" font-size="4.9" text-anchor="middle" fill="#000000" stroke="#b4b4b4" stroke-width="0.28" paint-order="stroke" font-family='"Liberation Sans", sans-serif' font-weight="normal" >102</text>
<text x="88.844" y="368.7" font-size="4.9" text-anchor="middle" fill="#000000" stroke="#b4b4b4" stroke-width="0.28" paint-order="stroke" font-family='"Liberation Sans", sans-serif' font-weight="normal" >85</text>
<text x="118.388" y="368.7" font-size="4.9" text-anchor="middle" fill="#000000" stroke="#b4b4b4" stroke-width="0.28" paint-order="stroke" font-family='"Liberation Sans", sans-serif' font-weight="normal" >72</text>
<text x="147.93200000000002" y="368.7" font-size="4.9" text-anchor="middle" fill="#000000" stroke="#b4b4b4" stroke-width="0.28" paint-order="stroke" font-family='"Liberation Sans", sans-serif' font-weight="normal" >51</text>
<text x="177.476" y="368.7" font-size="4.9" text-anchor="middle" fill="#000000" stroke="#b4b4b4" stroke-width="0.28" paint-order="stroke" font-family='"Liberation Sans", sans-serif' font-weight="normal" >42</text>
<text x="207.01999999999998" y="368.7" font-size="4.9" text-anchor="middle" fill="#000000" stroke="#b4b4b4" stroke-width="0.28" paint-order="stroke" font-family='"Liberation Sans", sans-serif' font-weight="normal" >27</text>
<text x="48.4" y="374.6" font-size="4.9" text-anchor="end" fill="#000000" stroke="#b4b4b4" stroke-width="0.28" paint-order="stroke" font-family='"Liberation Sans", sans-serif' font-weight="normal" >PNS high risk</text>
<text x="59.3" y="374.6" font-size="4.9" text-anchor="middle" fill="#000000" stroke="#b4b4b4" stroke-width="0.28" paint-order="stroke" font-family='"Liberation Sans", sans-serif' font-weight="normal" >6</text>
<text x="88.844" y="374.6" font-size="4.9" text-anchor="middle" fill="#000000" stroke="#b4b4b4" stroke-width="0.28" paint-order="stroke" font-family='"Liberation Sans", sans-serif' font-weight="normal" >6</text>
<text x="118.388" y="374.6" font-size="4.9" text-anchor="middle" fill="#000000" stroke="#b4b4b4" stroke-width="0.28" paint-order="stroke" font-family='"Liberation Sans", sans-serif' font-weight="normal" >3</text>
<text x="147.93200000000002" y="374.6" font-size="4.9" text-anchor="middle" fill="#000000" stroke="#b4b4b4" stroke-width="0.28" paint-order="stroke" font-family='"Liberation Sans", sans-serif' font-weight="normal" >3</text>
<text x="177.476" y="374.6" font-size="4.9" text-anchor="middle" fill="#000000" stroke="#b4b4b4" stroke-width="0.28" paint-order="stroke" font-family='"Liberation Sans", sans-serif' font-weight="normal" >3</text>
<text x="207.01999999999998" y="374.6" font-size="4.9" text-anchor="middle" fill="#000000" stroke="#b4b4b4" stroke-width="0.28" paint-order="stroke" font-family='"Liberation Sans", sans-serif' font-weight="normal" >3</text>
<line x1="60.3" y1="385.0" x2="85.3" y2="385.0" stroke="#5a8cb2" stroke-width="1.3"/>
<text x="89.6" y="386.8" font-size="5.0" text-anchor="start" fill="#000000" stroke="#b4b4b4" stroke-width="0.28" paint-order="stroke" font-family='"Liberation Sans", sans-serif' font-weight="normal" >PNS Low risk</text>
<line x1="130" y1="385.0" x2="155" y2="385.0" stroke="#f9a443" stroke-width="1.3"/>
<text x="159" y="386.8" font-size="5.0" text-anchor="start" fill="#000000" stroke="#b4b4b4" stroke-width="0.28" paint-order="stroke" font-family='"Liberation Sans", sans-serif' font-weight="normal" >PNS middle risk</text>
<line x1="204.6" y1="385.0" x2="230.2" y2="385.0" stroke="#ec3b69" stroke-width="1.3"/>
<text x="234.1" y="386.8" font-size="5.0" text-anchor="start" fill="#000000" stroke="#b4b4b4" stroke-width="0.28" paint-order="stroke" font-family='"Liberation Sans", sans-serif' font-weight="normal" >PNS high risk</text>
<path d="M59.3 221 V225.6 H93.2 V230 H94.2 V235.4 H110.6 V240.9 H126.6 V246.2 H132.8 V251.6 H158.5 V258.1 H179.7 V264.7 H264.8" fill="none" stroke="#5a8cb2" stroke-width="1.1" stroke-linejoin="miter" stroke-linecap="butt"/>
<path d="M59.3 221 V227 H64.1 V228.6 H74.3 V233.1 H77.6 V243.3 H89.5 V245.4 H96 V247.6 H106.7 V250.3 H112 V252.6 H115.6 V254.7 H117.5 V256.5 H119.3 V259.5 H121.5 V263.7 H123.8 V267.3 H128 V272.6 H134 V274.5 H136.5 V277.2 H138.5 V281 H140.3 V283.5 H147.8 V289.2 H163.1 V292.4 H173.5 V295.5 H179.4 V298.7 H184.7 V302.1 H226.1 V313.6 H264.8" fill="none" stroke="#f9a443" stroke-width="1.1" stroke-linejoin="miter" stroke-linecap="butt"/>
<path d="M59.3 221 H89.8 V255.3 H101.3 V290.7 H102.3 V324.8 H251.5" fill="none" stroke="#ec3b69" stroke-width="1.1" stroke-linejoin="miter" stroke-linecap="butt"/>
<line x1="330.5" y1="216.4" x2="330.5" y2="329.5" stroke="#707070" stroke-width="1"/>
<line x1="330.5" y1="329.5" x2="544.8" y2="329.5" stroke="#707070" stroke-width="1"/>
<line x1="327.1" y1="221.0" x2="330.5" y2="221.0" stroke="#707070" stroke-width="1.0"/>
<text x="326.0" y="222.8" font-size="5.0" text-anchor="end" fill="#000000" stroke="#b4b4b4" stroke-width="0.28" paint-order="stroke" font-family='"Liberation Sans", sans-serif' font-weight="normal" >1.00</text>
<line x1="327.1" y1="238.32" x2="330.5" y2="238.32" stroke="#707070" stroke-width="1.0"/>
<text x="326.0" y="240.12" font-size="5.0" text-anchor="end" fill="#000000" stroke="#b4b4b4" stroke-width="0.28" paint-order="stroke" font-family='"Liberation Sans", sans-serif' font-weight="normal" >0.90</text>
<line x1="327.1" y1="255.64" x2="330.5" y2="255.64" stroke="#707070" stroke-width="1.0"/>
<text x="326.0" y="257.44" font-size="5.0" text-anchor="end" fill="#000000" stroke="#b4b4b4" stroke-width="0.28" paint-order="stroke" font-family='"Liberation Sans", sans-serif' font-weight="normal" >0.80</text>
<line x1="327.1" y1="272.96" x2="330.5" y2="272.96" stroke="#707070" stroke-width="1.0"/>
<text x="326.0" y="274.76" font-size="5.0" text-anchor="end" fill="#000000" stroke="#b4b4b4" stroke-width="0.28" paint-order="stroke" font-family='"Liberation Sans", sans-serif' font-weight="normal" >0.70</text>
<line x1="327.1" y1="290.28" x2="330.5" y2="290.28" stroke="#707070" stroke-width="1.0"/>
<text x="326.0" y="292.08" font-size="5.0" text-anchor="end" fill="#000000" stroke="#b4b4b4" stroke-width="0.28" paint-order="stroke" font-family='"Liberation Sans", sans-serif' font-weight="normal" >0.60</text>
<line x1="327.1" y1="307.6" x2="330.5" y2="307.6" stroke="#707070" stroke-width="1.0"/>
<text x="326.0" y="309.40000000000003" font-size="5.0" text-anchor="end" fill="#000000" stroke="#b4b4b4" stroke-width="0.28" paint-order="stroke" font-family='"Liberation Sans", sans-serif' font-weight="normal" >0.50</text>
<line x1="335.0" y1="329.5" x2="335.0" y2="332.7" stroke="#707070" stroke-width="1.0"/>
<text x="335.0" y="338.4" font-size="5.0" text-anchor="middle" fill="#000000" stroke="#b4b4b4" stroke-width="0.28" paint-order="stroke" font-family='"Liberation Sans", sans-serif' font-weight="normal" >0</text>
<line x1="364.424" y1="329.5" x2="364.424" y2="332.7" stroke="#707070" stroke-width="1.0"/>
<text x="364.424" y="338.4" font-size="5.0" text-anchor="middle" fill="#000000" stroke="#b4b4b4" stroke-width="0.28" paint-order="stroke" font-family='"Liberation Sans", sans-serif' font-weight="normal" >12</text>
<line x1="393.848" y1="329.5" x2="393.848" y2="332.7" stroke="#707070" stroke-width="1.0"/>
<text x="393.848" y="338.4" font-size="5.0" text-anchor="middle" fill="#000000" stroke="#b4b4b4" stroke-width="0.28" paint-order="stroke" font-family='"Liberation Sans", sans-serif' font-weight="normal" >24</text>
<line x1="423.272" y1="329.5" x2="423.272" y2="332.7" stroke="#707070" stroke-width="1.0"/>
<text x="423.272" y="338.4" font-size="5.0" text-anchor="middle" fill="#000000" stroke="#b4b4b4" stroke-width="0.28" paint-order="stroke" font-family='"Liberation Sans", sans-serif' font-weight="normal" >36</text>
<line x1="452.696" y1="329.5" x2="452.696" y2="332.7" stroke="#707070" stroke-width="1.0"/>
<text x="452.696" y="338.4" font-size="5.0" text-anchor="middle" fill="#000000" stroke="#b4b4b4" stroke-width="0.28" paint-order="stroke" font-family='"Liberation Sans", sans-serif' font-weight="normal" >48</text>
<line x1="482.12" y1="329.5" x2="482.12" y2="332.7" stroke="#707070" stroke-width="1.0"/>
<text x="482.12" y="338.4" font-size="5.0" text-anchor="middle" fill="#000000" stroke="#b4b4b4" stroke-width="0.28" paint-order="stroke" font-family='"Liberation Sans", sans-serif' font-weight="normal" >60</text>
<line x1="511.544" y1="329.5" x2="511.544" y2="332.7" stroke="#707070" stroke-width="1.0"/>
<text x="511.544" y="338.4" font-size="5.0" text-anchor="middle" fill="#000000" stroke="#b4b4b4" stroke-width="0.28" paint-order="stroke" font-family='"Liberation Sans", sans-serif' font-weight="normal" >72</text>
<line x1="540.968" y1="329.5" x2="540.968" y2="332.7" stroke="#707070" stroke-width="1.0"/>
<text x="540.968" y="338.4" font-size="5.0" text-anchor="middle" fill="#000000" stroke="#b4b4b4" stroke-width="0.28" paint-order="stroke" font-family='"Liberation Sans", sans-serif' font-weight="normal" >84</text>
<text x="281.6" y="215.4" font-size="13.2" text-anchor="start" fill="#000" stroke="#b4b4b4" stroke-width="0.35" paint-order="stroke" font-family='"Liberation Serif", serif' font-weight="bold" >d</text>
<text x="438" y="214.2" font-size="6.9" text-anchor="middle" fill="#000000" stroke="#b4b4b4" stroke-width="0.3" paint-order="stroke" font-family='"Liberation Sans", sans-serif' font-weight="normal" >Disease free survival in Adenocarcinoma patients</text>
<text x="0" y="0" font-size="6.6" text-anchor="middle" fill="#000000" stroke="#b4b4b4" stroke-width="0.3" paint-order="stroke" font-family='"Liberation Sans", sans-serif' font-weight="normal" transform="translate(309.0,273) rotate(-90)" textLength="52.3" lengthAdjust="spacingAndGlyphs">Survival probability</text>
<text x="438.0" y="348.0" font-size="6.8" text-anchor="middle" fill="#000000" stroke="#b4b4b4" stroke-width="0.3" paint-order="stroke" font-family='"Liberation Sans", sans-serif' font-weight="normal"  textLength="39.8" lengthAdjust="spacingAndGlyphs">Time (months)</text>
<text x="453.4" y="240.6" font-size="6.3" text-anchor="start" fill="#000000" stroke="#b4b4b4" stroke-width="0.3" paint-order="stroke" font-family='"Liberation Sans", sans-serif' font-weight="normal" >log-rank p = 0.0031</text>
<text x="286.1" y="356.0" font-size="6.3" text-anchor="start" fill="#000000" stroke="#b4b4b4" stroke-width="0.3" paint-order="stroke" font-family='"Liberation Sans", sans-serif' font-weight="normal"  textLength="38.4" lengthAdjust="spacingAndGlyphs">Number at risk</text>
<text x="324.0" y="362.8" font-size="4.9" text-anchor="end" fill="#000000" stroke="#b4b4b4" stroke-width="0.28" paint-order="stroke" font-family='"Liberation Sans", sans-serif' font-weight="normal" >PNS Low risk</text>
<text x="335.0" y="362.8" font-size="4.9" text-anchor="middle" fill="#000000" stroke="#b4b4b4" stroke-width="0.28" paint-order="stroke" font-family='"Liberation Sans", sans-serif' font-weight="normal" >20</text>
<text x="364.424" y="362.8" font-size="4.9" text-anchor="middle" fill="#000000" stroke="#b4b4b4" stroke-width="0.28" paint-order="stroke" font-family='"Liberation Sans", sans-serif' font-weight="normal" >20</text>
<text x="393.848" y="362.8" font-size="4.9" text-anchor="middle" fill="#000000" stroke="#b4b4b4" stroke-width="0.28" paint-order="stroke" font-family='"Liberation Sans", sans-serif' font-weight="normal" >19</text>
<text x="423.272" y="362.8" font-size="4.9" text-anchor="middle" fill="#000000" stroke="#b4b4b4" stroke-width="0.28" paint-order="stroke" font-family='"Liberation Sans", sans-serif' font-weight="normal" >17</text>
<text x="452.696" y="362.8" font-size="4.9" text-anchor="middle" fill="#000000" stroke="#b4b4b4" stroke-width="0.28" paint-order="stroke" font-family='"Liberation Sans", sans-serif' font-weight="normal" >15</text>
<text x="482.12" y="362.8" font-size="4.9" text-anchor="middle" fill="#000000" stroke="#b4b4b4" stroke-width="0.28" paint-order="stroke" font-family='"Liberation Sans", sans-serif' font-weight="normal" >11</text>
<text x="511.544" y="362.8" font-size="4.9" text-anchor="middle" fill="#000000" stroke="#b4b4b4" stroke-width="0.28" paint-order="stroke" font-family='"Liberation Sans", sans-serif' font-weight="normal" >9</text>
<text x="540.968" y="362.8" font-size="4.9" text-anchor="middle" fill="#000000" stroke="#b4b4b4" stroke-width="0.28" paint-order="stroke" font-family='"Liberation Sans", sans-serif' font-weight="normal" >0</text>
<text x="324.0" y="368.7" font-size="4.9" text-anchor="end" fill="#000000" stroke="#b4b4b4" stroke-width="0.28" paint-order="stroke" font-family='"Liberation Sans", sans-serif' font-weight="normal" >PNS middle risk</text>
<text x="335.0" y="368.7" font-size="4.9" text-anchor="middle" fill="#000000" stroke="#b4b4b4" stroke-width="0.28" paint-order="stroke" font-family='"Liberation Sans", sans-serif' font-weight="normal" >67</text>
<text x="364.424" y="368.7" font-size="4.9" text-anchor="middle" fill="#000000" stroke="#b4b4b4" stroke-width="0.28" paint-order="stroke" font-family='"Liberation Sans", sans-serif' font-weight="normal" >57</text>
<text x="393.848" y="368.7" font-size="4.9" text-anchor="middle" fill="#000000" stroke="#b4b4b4" stroke-width="0.28" paint-order="stroke" font-family='"Liberation Sans", sans-serif' font-weight="normal" >52</text>
<text x="423.272" y="368.7" font-size="4.9" text-anchor="middle" fill="#000000" stroke="#b4b4b4" stroke-width="0.28" paint-order="stroke" font-family='"Liberation Sans", sans-serif' font-weight="normal" >38</text>
<text x="452.696" y="368.7" font-size="4.9" text-anchor="middle" fill="#000000" stroke="#b4b4b4" stroke-width="0.28" paint-order="stroke" font-family='"Liberation Sans", sans-serif' font-weight="normal" >32</text>
<text x="482.12" y="368.7" font-size="4.9" text-anchor="middle" fill="#000000" stroke="#b4b4b4" stroke-width="0.28" paint-order="stroke" font-family='"Liberation Sans", sans-serif' font-weight="normal" >21</text>
<text x="511.544" y="368.7" font-size="4.9" text-anchor="middle" fill="#000000" stroke="#b4b4b4" stroke-width="0.28" paint-order="stroke" font-family='"Liberation Sans", sans-serif' font-weight="normal" >12</text>
<text x="540.968" y="368.7" font-size="4.9" text-anchor="middle" fill="#000000" stroke="#b4b4b4" stroke-width="0.28" paint-order="stroke" font-family='"Liberation Sans", sans-serif' font-weight="normal" >4</text>
<text x="324.0" y="374.6" font-size="4.9" text-anchor="end" fill="#000000" stroke="#b4b4b4" stroke-width="0.28" paint-order="stroke" font-family='"Liberation Sans", sans-serif' font-weight="normal" >PNS high risk</text>
<text x="335.0" y="374.6" font-size="4.9" text-anchor="middle" fill="#000000" stroke="#b4b4b4" stroke-width="0.28" paint-order="stroke" font-family='"Liberation Sans", sans-serif' font-weight="normal" >5</text>
<text x="364.424" y="374.6" font-size="4.9" text-anchor="middle" fill="#000000" stroke="#b4b4b4" stroke-width="0.28" paint-order="stroke" font-family='"Liberation Sans", sans-serif' font-weight="normal" >5</text>
<text x="393.848" y="374.6" font-size="4.9" text-anchor="middle" fill="#000000" stroke="#b4b4b4" stroke-width="0.28" paint-order="stroke" font-family='"Liberation Sans", sans-serif' font-weight="normal" >2</text>
<text x="423.272" y="374.6" font-size="4.9" text-anchor="middle" fill="#000000" stroke="#b4b4b4" stroke-width="0.28" paint-order="stroke" font-family='"Liberation Sans", sans-serif' font-weight="normal" >2</text>
<text x="452.696" y="374.6" font-size="4.9" text-anchor="middle" fill="#000000" stroke="#b4b4b4" stroke-width="0.28" paint-order="stroke" font-family='"Liberation Sans", sans-serif' font-weight="normal" >2</text>
<text x="482.12" y="374.6" font-size="4.9" text-anchor="middle" fill="#000000" stroke="#b4b4b4" stroke-width="0.28" paint-order="stroke" font-family='"Liberation Sans", sans-serif' font-weight="normal" >2</text>
<text x="511.544" y="374.6" font-size="4.9" text-anchor="middle" fill="#000000" stroke="#b4b4b4" stroke-width="0.28" paint-order="stroke" font-family='"Liberation Sans", sans-serif' font-weight="normal" >2</text>
<text x="540.968" y="374.6" font-size="4.9" text-anchor="middle" fill="#000000" stroke="#b4b4b4" stroke-width="0.28" paint-order="stroke" font-family='"Liberation Sans", sans-serif' font-weight="normal" >1</text>
<line x1="336.2" y1="384.8" x2="360.7" y2="384.8" stroke="#5a8cb2" stroke-width="1.3"/>
<text x="365.4" y="386.6" font-size="5.0" text-anchor="start" fill="#000000" stroke="#b4b4b4" stroke-width="0.28" paint-order="stroke" font-family='"Liberation Sans", sans-serif' font-weight="normal" >PNS Low risk</text>
<line x1="405.5" y1="384.8" x2="430.8" y2="384.8" stroke="#f9a443" stroke-width="1.3"/>
<text x="434.5" y="386.6" font-size="5.0" text-anchor="start" fill="#000000" stroke="#b4b4b4" stroke-width="0.28" paint-order="stroke" font-family='"Liberation Sans", sans-serif' font-weight="normal" >PNS middle risk</text>
<line x1="480.1" y1="384.8" x2="505.7" y2="384.8" stroke="#ec3b69" stroke-width="1.3"/>
<text x="509.7" y="386.6" font-size="5.0" text-anchor="start" fill="#000000" stroke="#b4b4b4" stroke-width="0.28" paint-order="stroke" font-family='"Liberation Sans", sans-serif' font-weight="normal" >PNS high risk</text>
<path d="M365 220.9 H385.6 V229.4 H539.4" fill="none" stroke="#5a8cb2" stroke-width="1.1" stroke-linejoin="miter" stroke-linecap="butt"/>
<path d="M335 220.9 V225.9 H352.8 V234.8 H354 V236 H371.3 V239.6 H387.4 V242.3 H390.6 V245 H393.4 V249.4 H395.2 V253.9 H398 V256.5 H402.5 V259.2 H404.3 V262.4 H408.7 V265.4 H411.8 V269 H423 V275.3 H447.8 V278.7 H454 V282.4 H459.6 V286 H501 V292.7 H539.4" fill="none" stroke="#f9a443" stroke-width="1.1" stroke-linejoin="miter" stroke-linecap="butt"/>
<path d="M335 220.9 H365.5 V255.1 H376.8 V290 H377.9 V324.4 H526.2" fill="none" stroke="#ec3b69" stroke-width="1.1" stroke-linejoin="miter" stroke-linecap="butt"/>
</g>
</svg>
</body></html>
